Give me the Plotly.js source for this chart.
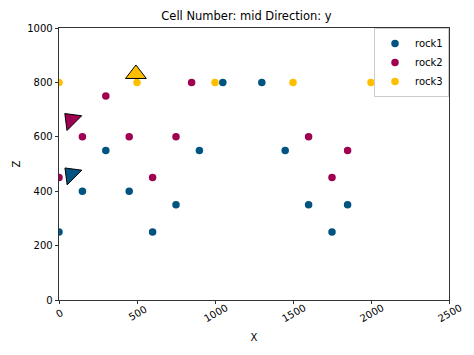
<!DOCTYPE html>
<html>
<head>
<meta charset="utf-8">
<script src="https://cdn.plot.ly/plotly-3.0.1.min.js"></script>
<style>html,body{margin:0;padding:0;background:#fff;}#chart{width:474px;height:355px;}</style>
</head>
<body>
<div id="chart"></div>
<script>
// Surface points
const rock1X = [1050, 1300, 300, 900, 1450, 0, 150, 450, 600, 750, 1600, 1850, 1750];
const rock1Z = [800, 800, 550, 550, 550, 250, 400, 400, 250, 350, 350, 350, 250];
const rock2X = [0, 600, 300, 150, 450, 750, 850, 1600, 1850, 1750];
const rock2Z = [450, 450, 750, 600, 600, 600, 800, 600, 550, 450];
const rock3X = [0, 500, 1000, 1500, 2000];
const rock3Z = [800, 800, 800, 800, 800];
// Orientations (marker centres and rotation)
const orientX = [79, 78, 493];
const orientZ = [462, 662, 831];
const orientAngle = [-45, -45, 0];
const orientSeries = ['rock1', 'rock2', 'rock3'];
// Ticks
const xTicks = [0, 500, 1000, 1500, 2000, 2500];
const yTicks = [0, 200, 400, 600, 800, 1000];

const colors = {rock1: '#015482', rock2: '#9f0052', rock3: '#ffbe00'};
const font = 'DejaVu Sans, sans-serif';

const pts = [['rock1', rock1X, rock1Z], ['rock2', rock2X, rock2Z], ['rock3', rock3X, rock3Z]].map(([n, x, z]) => ({
  type: 'scatter', mode: 'markers', name: n, x: x, y: z,
  marker: {color: colors[n], size: 7.5, line: {width: 0}}
}));

const orient = orientX.map((x, i) => ({
  type: 'scatter', mode: 'markers', showlegend: false, x: [x], y: [orientZ[i]],
  marker: {symbol: 'triangle-up', size: 18, angle: orientAngle[i], color: colors[orientSeries[i]], line: {color: 'black', width: 1}}
}));

const tickAnn = xTicks.map(v => ({
  x: v, xref: 'x', y: 0, yref: 'paper', yshift: -13, text: String(v), showarrow: false,
  textangle: -30, xanchor: 'center', yanchor: 'middle', font: {family: font, size: 10, color: '#000'}
}));

const layout = {
  width: 474, height: 355,
  margin: {l: 58.5, r: 25, t: 28, b: 55},
  paper_bgcolor: '#fff', plot_bgcolor: '#fff',
  font: {family: font, size: 10, color: '#000'},
  title: {text: 'Cell Number: mid Direction: y', font: {family: font, size: 11.5, color: '#000'}, x: 0.52, xanchor: 'center', y: 0.955, yanchor: 'middle'},
  xaxis: {range: [0, 2500], tickvals: xTicks, showticklabels: false, ticks: 'outside', ticklen: 3.5, tickcolor: '#000', tickwidth: 0.8,
    showgrid: false, zeroline: false, showline: true, linecolor: '#000', linewidth: 0.8, mirror: true,
    title: {text: 'X', font: {family: font, size: 10}, standoff: 30}},
  yaxis: {range: [0, 1000], tickvals: yTicks, ticks: 'outside', ticklen: 3.5, tickcolor: '#000', tickwidth: 0.8,
    showgrid: false, zeroline: false, showline: true, linecolor: '#000', linewidth: 0.8, mirror: true,
    tickfont: {family: font, size: 10},
    title: {text: 'Z', font: {family: font, size: 10}, standoff: 4}},
  legend: {x: 1.0, xanchor: 'right', y: 1.0, yanchor: 'top', bgcolor: 'rgba(255,255,255,0.8)', bordercolor: '#cccccc', borderwidth: 1,
    font: {family: font, size: 10}, itemwidth: 30, tracegroupgap: 0},
  annotations: tickAnn,
  showlegend: true
};

Plotly.newPlot('chart', pts.concat(orient), layout, {staticPlot: true, displayModeBar: false});
</script>
</body>
</html>
